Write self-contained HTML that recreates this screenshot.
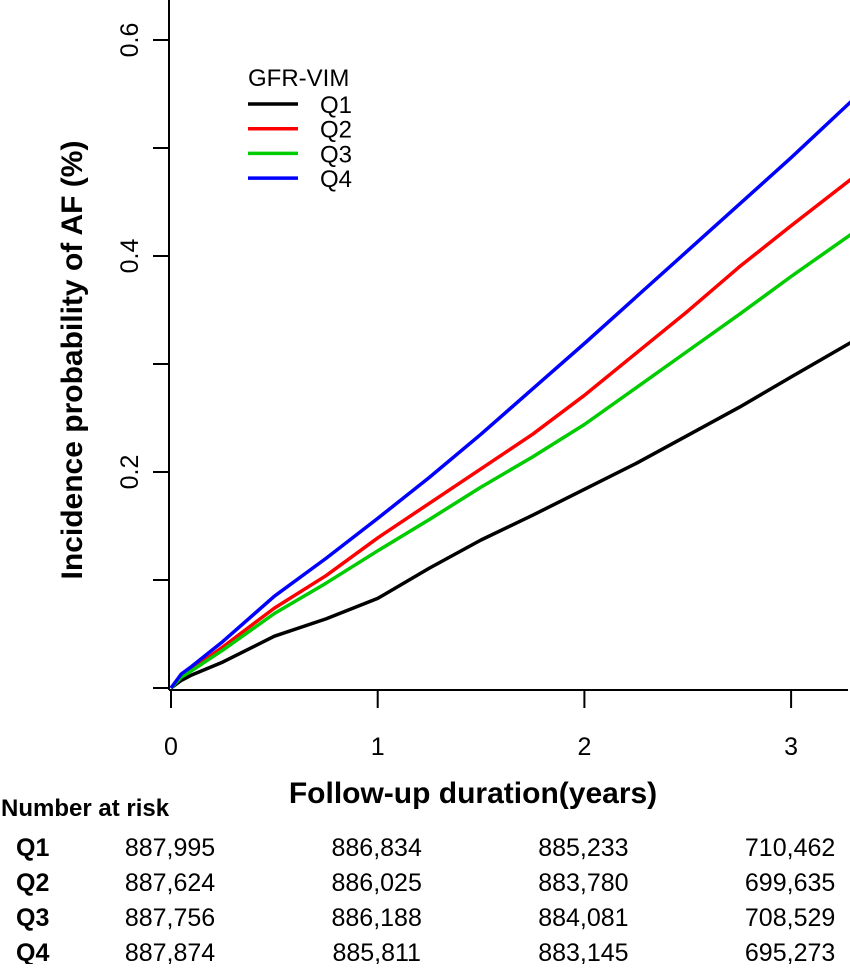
<!DOCTYPE html>
<html><head><meta charset="utf-8"><style>
body{margin:0;background:#fff;width:850px;height:964px;overflow:hidden}
svg{font-family:"Liberation Sans",Arial,sans-serif}
</style></head><body>
<svg width="850" height="964">
<g id="axes"></g><g id="curves"></g><g id="legend"></g><g id="table"></g>
</svg>
<script>
const times=[0,0.05,0.1,0.25,0.5,0.75,1,1.25,1.5,1.75,2,2.25,2.5,2.75,3,3.29];
const q1=[0,0.007,0.012,0.024,0.048,0.064,0.083,0.111,0.137,0.160,0.184,0.208,0.234,0.260,0.288,0.320];
const q2=[0,0.011,0.017,0.038,0.074,0.104,0.139,0.171,0.203,0.235,0.271,0.310,0.349,0.390,0.428,0.471];
const q3=[0,0.010,0.016,0.035,0.069,0.097,0.127,0.156,0.186,0.214,0.244,0.278,0.312,0.346,0.381,0.420];
const q4=[0,0.013,0.020,0.043,0.085,0.120,0.157,0.195,0.235,0.277,0.319,0.362,0.405,0.448,0.491,0.543];
const seriesNames=["Q1","Q2","Q3","Q4"];
const colors=["#000","#f00","#00cc00","#0000ff"];
const yTicks=[0,0.1,0.2,0.3,0.4,0.5,0.6];
const yLabels=["","","0.2","","0.4","","0.6"];
const xTicks=[0,1,2,3];
const risk=[["887,995","886,834","885,233","710,462"],["887,624","886,025","883,780","699,635"],["887,756","886,188","884,081","708,529"],["887,874","885,811","883,145","695,273"]];
const NS="http://www.w3.org/2000/svg";
const X=t=>171+206.7*t, Y=v=>688-1080*v;
function mk(tag,at,parent,txt){const e=document.createElementNS(NS,tag);for(const k in at)e.setAttribute(k,at[k]);if(txt!=null)e.textContent=txt;document.getElementById(parent).appendChild(e);return e;}
let e;
e=mk("line",{x1:169,y1:0,x2:169,y2:690,stroke:"#000","stroke-width":2},"axes");


e=mk("line",{x1:169,y1:690,x2:848,y2:690,stroke:"#000","stroke-width":2},"axes");


yTicks.forEach((v,i)=>{
 e=mk("line",{x1:153,y1:Y(v),x2:169,y2:Y(v),stroke:"#000","stroke-width":2},"axes");
 
 
 if(yLabels[i]){e=mk("text",{x:138,y:Y(v),"font-size":25,"text-anchor":"middle",transform:`rotate(-90 138 ${Y(v)})`},"axes",yLabels[i]);
 
 }
});
xTicks.forEach(t=>{
 e=mk("line",{x1:X(t),y1:690,x2:X(t),y2:708,stroke:"#000","stroke-width":2},"axes");
 
 
 e=mk("text",{x:X(t),y:755,"font-size":25,"text-anchor":"middle"},"axes",String(t));
 
 
});
e=mk("text",{x:82,y:360,"font-size":30,"font-weight":"bold","text-anchor":"middle",transform:"rotate(-90 82 360)"},"axes","Incidence probability of AF (%)");


e=mk("text",{x:473,y:803,"font-size":30,"font-weight":"bold","text-anchor":"middle"},"axes","Follow-up duration(years)");


[q1,q2,q3,q4].forEach((s,i)=>{
 const d=s.map((v,j)=>(j?"L":"M")+X(times[j]).toFixed(1)+","+Y(v).toFixed(1)).join("");
 e=mk("path",{d:d,fill:"none",stroke:colors[i],"stroke-width":3.5,"stroke-linejoin":"round"},"curves");
 
 
});
e=mk("text",{x:248,y:86,"font-size":24},"legend","GFR-VIM");


seriesNames.forEach((n,i)=>{
 const yy=104+24.7*i;
 e=mk("line",{x1:248,y1:yy,x2:298,y2:yy,stroke:colors[i],"stroke-width":3.5},"legend");
 
 
 e=mk("text",{x:320,y:yy+9,"font-size":24},"legend",n);
 
 
});
e=mk("text",{x:1,y:816,"font-size":24,"font-weight":"bold"},"table","Number at risk");


risk.forEach((row,i)=>{
 const yy=856+35*i;
 e=mk("text",{x:16,y:yy,"font-size":25,"font-weight":"bold"},"table",seriesNames[i]);
 
 
 row.forEach((v,j)=>{
  e=mk("text",{x:X(xTicks[j])-1,y:yy,"font-size":25,"text-anchor":"middle"},"table",v);
  
  
 });
});
</script>
</body></html>
